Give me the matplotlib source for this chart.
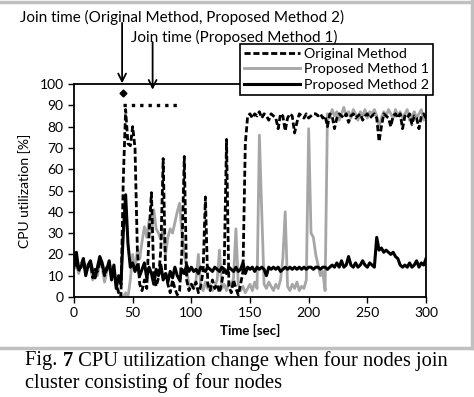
import numpy as np
import matplotlib
matplotlib.use("Agg")
import matplotlib.pyplot as plt
from matplotlib.lines import Line2D

plt.rcParams['font.family'] = ['Lato', 'DejaVu Sans']

# time axis, one sample every 2 s
time_sec = np.arange(0, 301, 2)

original_method = [
    14, 17, 12, 15, 18, 11, 14, 16, 9, 13, 12, 17, 15, 10, 14, 16, 11, 13, 6, 2,
    0, 55, 88, 72, 71, 80, 70, 22, 6, 3,
    8, 4, 30, 49, 10, 5, 9, 22, 65, 12,
    6, 2, 8, 4, 1, 3, 22, 66, 8, 3,
    6, 4, 7, 2, 5, 12, 47, 6, 3, 8,
    4, 6, 2, 7, 14, 74, 5, 2, 8, 4,
    1, 6, 12, 72, 85,
    86, 84, 86, 85, 87, 84, 86, 85, 83, 86,
    85, 84, 79, 86, 85, 78, 84, 86, 85, 77,
    82, 86, 85, 84, 86, 84, 85, 86, 86, 85,
    86, 84, 85, 80, 86, 85, 79, 84, 86, 85,
    84, 86, 82, 85, 86, 84, 85, 86, 83, 85,
    86, 84, 85, 86, 84, 73, 80, 86, 85, 84,
    80, 85, 86, 84, 86, 79, 85, 84, 86, 81,
    85, 84, 79, 85, 86, 84,
]

proposed_1 = [
    13, 15, 11, 16, 17, 12, 14, 15, 8, 12, 10, 16, 14, 7, 12, 15, 9, 12, 5, 3,
    0, 0, 2, 0, 8, 20, 12, 22, 18, 26,
    33, 28, 36, 30, 41, 32, 30, 27, 32, 20,
    28, 32, 30, 35, 40, 44, 30, 20, 14, 5,
    6, 4, 8, 20, 5, 3, 7, 4, 6, 3,
    5, 8, 22, 4, 6, 3, 7, 5, 9, 32,
    6, 3, 5, 2, 4,
    6, 3, 7, 4, 76, 40, 6, 4, 7, 5,
    3, 6, 4, 8, 18, 40, 5, 3, 6, 4,
    7, 3, 5, 4, 8, 79, 30, 28, 20, 15,
    10, 12, 3, 86, 84, 88, 85, 87, 83, 86,
    89, 85, 87, 84, 88, 86, 83, 87, 85, 88,
    84, 87, 86, 88, 85, 80, 84, 87, 85, 88,
    86, 84, 88, 85, 87, 84, 86, 88, 83, 85,
    87, 84, 86, 88, 83, 85,
]

proposed_2 = [
    16, 21, 13, 14, 18, 10, 15, 17, 12, 9, 14, 19, 16, 11, 13, 17, 8, 15, 4, 10,
    6, 30, 48, 25, 14, 16, 12, 15, 10, 13,
    16, 9, 14, 11, 6, 13, 10, 15, 8, 11,
    7, 12, 9, 14, 10, 8, 13, 11, 15, 12,
    14, 12, 13, 11, 14, 13, 12, 14, 13, 12,
    14, 13, 12, 14, 13, 11, 14, 13, 12, 14,
    12, 13, 16, 11, 14,
    13, 14, 12, 14, 13, 14, 13, 10, 14, 13,
    14, 13, 14, 12, 13, 14, 13, 14, 13, 14,
    13, 14, 13, 14, 13, 14, 14, 13, 14, 14,
    13, 14, 14, 13, 14, 15, 14, 16, 14, 17,
    14, 15, 19, 15, 14, 16, 14, 15, 17, 15,
    14, 16, 15, 14, 28, 22, 23, 21, 22, 21,
    20, 21, 19, 18, 15, 14, 15, 14, 16, 14,
    15, 17, 14, 16, 15, 18,
]

labels = ['Original Method', 'Proposed Method 1', 'Proposed Method 2']

join_orig = 41
join_pm1 = 67
plateau_x = [42, 90]
plateau_y = 90

dash = (0, (2.2, 1.0))

fig = plt.figure(figsize=(4.74, 3.97), dpi=100)
ax = fig.add_axes([74 / 474, 1 - 297 / 397, 352 / 474, 213 / 397])

ax.plot(time_sec, proposed_1, color='#a6a6a6', linewidth=2.0)
ax.plot(time_sec, proposed_2, color='black', linewidth=2.2)
ax.plot(time_sec, original_method, color='black', linewidth=2.0, linestyle=dash)

ax.plot(plateau_x, [plateau_y, plateau_y], color='black', linewidth=2.4, linestyle=(0, (1, 1.5)))
ax.plot([join_orig + 1], [96], marker='D', color='black', markersize=3.5, clip_on=False)

ax.set_xlim(0, 300)
ax.set_ylim(0, 100)
ax.set_xticks(range(0, 301, 50))
ax.set_yticks(range(0, 101, 10))
ax.tick_params(direction='out', length=4, width=1, labelsize=10, colors='black')
for s in ax.spines.values():
    s.set_linewidth(1.3)
ax.set_xlabel('Time [sec]', fontsize=9.5, fontweight='bold', labelpad=3)
ax.set_ylabel('CPU utilization [%]', fontsize=10, labelpad=6)

# join-time arrows
ax.annotate('', xy=(join_orig, 99), xytext=(join_orig, 130),
            xycoords='data', textcoords='data', annotation_clip=False,
            arrowprops=dict(arrowstyle='->', color='black', lw=1.3, mutation_scale=14))
ax.annotate('', xy=(join_pm1, 96), xytext=(join_pm1, 121),
            xycoords='data', textcoords='data', annotation_clip=False,
            arrowprops=dict(arrowstyle='->', color='black', lw=1.3, mutation_scale=14))
fig.text(20 / 474, 1 - 17 / 397, 'Join time (Original Method, Proposed Method 2)',
         fontsize=11, va='center', ha='left')
fig.text(131 / 474, 1 - 37 / 397, 'Join time (Proposed Method 1)',
         fontsize=11, va='center', ha='left')

handles = [
    Line2D([], [], color='black', linewidth=2.0, linestyle=dash),
    Line2D([], [], color='#a6a6a6', linewidth=2.0),
    Line2D([], [], color='black', linewidth=2.2),
]
leg = fig.legend(handles, labels,
                 loc='upper left', bbox_to_anchor=(240 / 474, 1 - 44 / 397),
                 fontsize=10.3, frameon=True, fancybox=False, edgecolor='black',
                 framealpha=1, handlelength=3.9, handletextpad=0.25, labelspacing=0.22,
                 borderpad=0.3, borderaxespad=0)
leg.get_frame().set_linewidth(1.2)

# caption under the framed picture, "7" in bold
fig.canvas.draw()
renderer = fig.canvas.get_renderer()
x_pos = 25
for piece, weight in [('Fig. ', 'normal'), ('7', 'bold'),
                      (' CPU utilization change when four nodes join', 'normal')]:
    t = fig.text(x_pos / 474, 1 - 361 / 397, piece, family='Liberation Serif',
                 fontsize=14.8, fontweight=weight, va='center')
    x_pos += t.get_window_extent(renderer).width
fig.text(25 / 474, 1 - 383 / 397, 'cluster consisting of four nodes',
         family='Liberation Serif', fontsize=14.8, va='center')

# gray frame of the screenshot
frame_col = '#c0c0c0'
fig.add_artist(Line2D([0, 1], [1 - 1.5 / 397, 1 - 1.5 / 397], color=frame_col, linewidth=2.5))
fig.add_artist(Line2D([472 / 474, 472 / 474], [1 - 348 / 397, 1], color=frame_col, linewidth=2.5))
fig.add_artist(Line2D([0, 472 / 474], [1 - 348 / 397, 1 - 348 / 397], color=frame_col, linewidth=2.5))

fig.savefig('out.png', dpi=100)
